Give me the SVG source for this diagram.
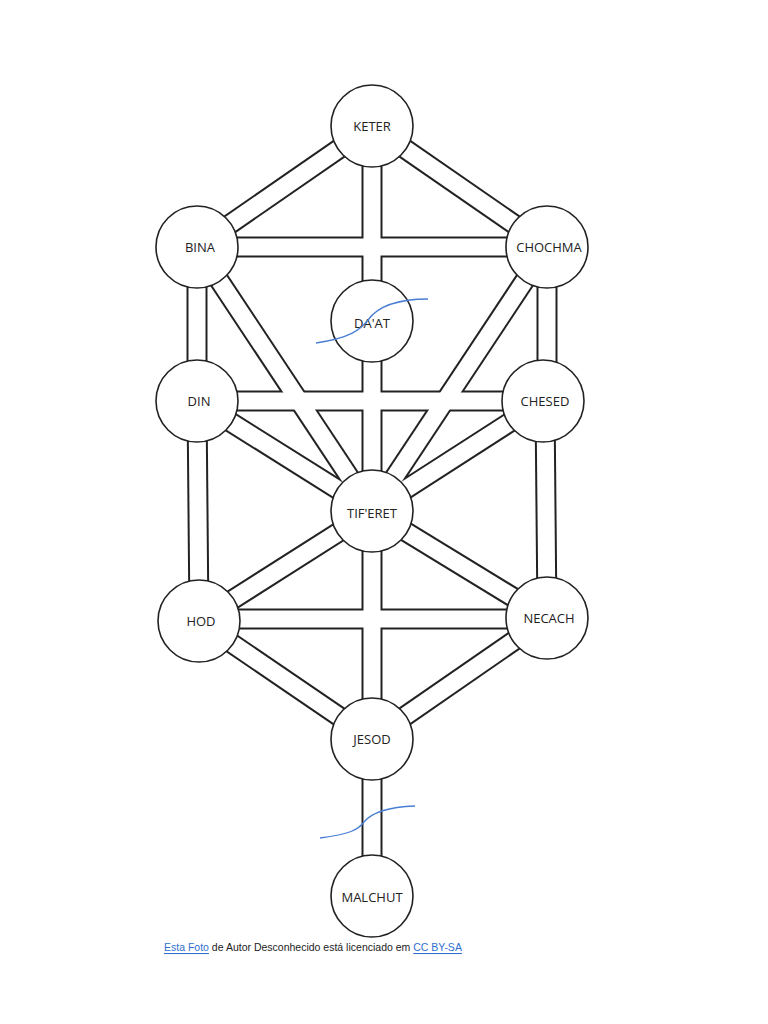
<svg xmlns="http://www.w3.org/2000/svg" width="768" height="1024" viewBox="0 0 768 1024">
<style>
.o{stroke:#222;stroke-width:21;stroke-linecap:butt}
.i{stroke:#fff;stroke-width:17;stroke-linecap:butt}
circle{fill:#fff;stroke:#222;stroke-width:1.6}
text{font-family:"Open Sans","Liberation Sans",sans-serif;font-size:13px;fill:#222;text-anchor:middle;dominant-baseline:central}
.b{fill:none;stroke:#4a7fd4;stroke-width:1.3}
.c{font-family:"Liberation Sans",sans-serif;font-size:10.5px;text-anchor:start}
</style>
<defs>
<g id="paths">
<line x1="372" y1="126" x2="372" y2="739"/>
<line x1="372" y1="739" x2="372" y2="896"/>
<line x1="372" y1="126" x2="197" y2="247"/>
<line x1="372" y1="126" x2="547" y2="247"/>
<line x1="197" y1="247" x2="547" y2="247"/>
<line x1="197" y1="247" x2="197" y2="401"/>
<line x1="547" y1="247" x2="547" y2="401"/>
<line x1="197" y1="247" x2="372" y2="511"/>
<line x1="547" y1="247" x2="372" y2="511"/>
<line x1="197" y1="401" x2="543" y2="401"/>
<line x1="197" y1="401" x2="372" y2="511"/>
<line x1="543" y1="401" x2="372" y2="511"/>
<line x1="197" y1="401" x2="199" y2="621"/>
<line x1="545" y1="401" x2="547" y2="618"/>
<line x1="372" y1="511" x2="199" y2="621"/>
<line x1="372" y1="511" x2="547" y2="618"/>
<line x1="199" y1="619" x2="547" y2="619"/>
<line x1="199" y1="621" x2="372" y2="739"/>
<line x1="547" y1="618" x2="372" y2="739"/>
</g>
</defs>
<rect width="768" height="1024" fill="#fff"/>
<g id="connectors">
<use href="#paths" class="o"/>
<use href="#paths" class="i"/>
</g>
<g id="keter"><circle cx="372" cy="126" r="41"/><text x="372" y="126">KETER</text></g>
<g id="bina"><circle cx="197" cy="247" r="41"/><text x="200" y="247">BINA</text></g>
<g id="chochma"><circle cx="547" cy="247" r="41"/><text x="549" y="247">CHOCHMA</text></g>
<g id="daat"><circle cx="372" cy="321" r="41"/><text x="372" y="323">DA'AT</text></g>
<g id="din"><circle cx="197" cy="401" r="41"/><text x="199" y="401">DIN</text></g>
<g id="chesed"><circle cx="543" cy="401" r="41"/><text x="545" y="401">CHESED</text></g>
<g id="tiferet"><circle cx="372" cy="511" r="41"/><text x="372" y="513">TIF'ERET</text></g>
<g id="hod"><circle cx="199" cy="621" r="41"/><text x="201" y="621">HOD</text></g>
<g id="necach"><circle cx="547" cy="618" r="41"/><text x="549" y="618">NECACH</text></g>
<g id="jesod"><circle cx="372" cy="739" r="41"/><text x="372" y="739">JESOD</text></g>
<g id="malchut"><circle cx="372" cy="896" r="41"/><text x="372" y="897">MALCHUT</text></g>
<path class="b" d="M316,343 C350,338 360,330 368,320 C378,306 400,299 428,299"/>
<path class="b" d="M320,838 C350,834 358,830 364,822 C372,812 390,807 415,806"/>
<text class="c" x="164" y="947"><tspan fill="#2f6fd0" text-decoration="underline">Esta Foto</tspan> de Autor Desconhecido está licenciado em <tspan fill="#2f6fd0" text-decoration="underline">CC BY-SA</tspan></text>
</svg>
